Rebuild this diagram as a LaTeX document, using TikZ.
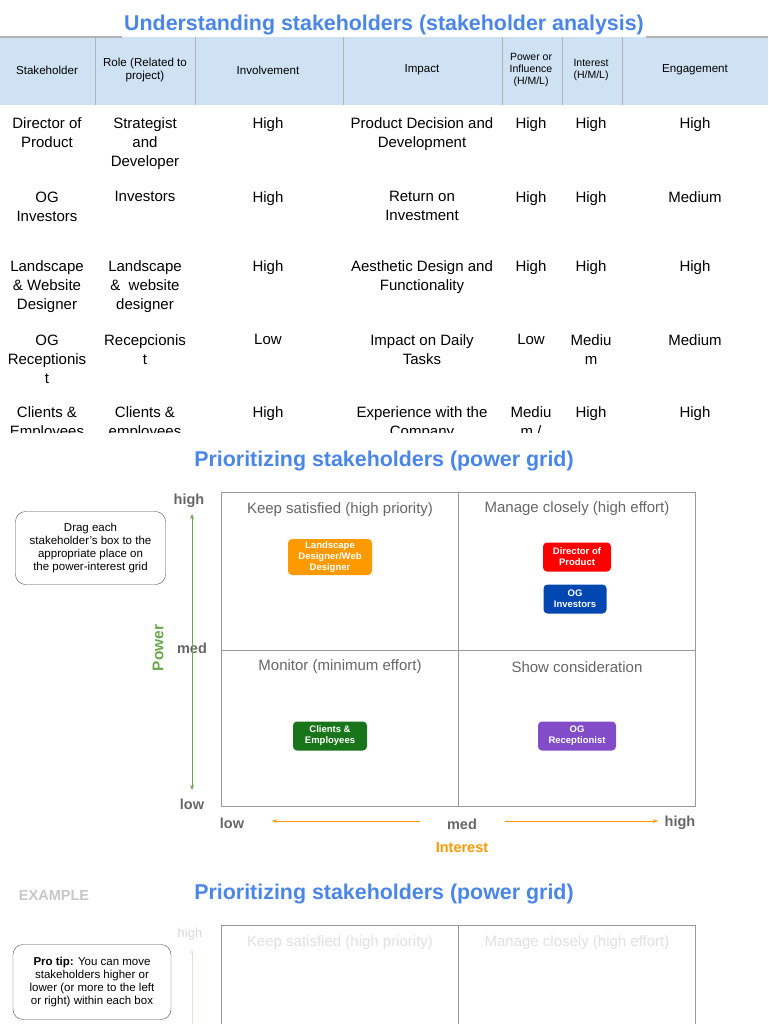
\documentclass[tikz,border=0pt]{standalone}
\usepackage{fontspec}
\setmainfont{Liberation Sans}
\usetikzlibrary{arrows.meta}
\definecolor{ttl}{HTML}{4A86E8}
\definecolor{hdr}{HTML}{CFE2F3}
\definecolor{gtxt}{HTML}{666666}
\definecolor{pgreen}{HTML}{6AA84F}
\definecolor{iorange}{HTML}{FF9900}
\begin{document}
\begin{tikzpicture}[x=1pt,y=-1pt,
 title/.style={font=\fontsize{21.4}{23}\selectfont\bfseries,text=ttl},
 hd/.style={font=\fontsize{11.6}{12.5}\selectfont,align=center},
 cell/.style={font=\fontsize{15}{19}\selectfont,align=center,anchor=north},
 quad/.style={font=\fontsize{15}{16}\selectfont,text=gtxt},
 ax/.style={font=\fontsize{14.5}{16}\selectfont\bfseries,text=gtxt},
 sticker/.style={rounded corners=4pt,font=\fontsize{9.5}{11}\selectfont\bfseries,text=white,align=center,inner sep=0pt},
 note/.style={draw=black!70,rounded corners=10pt,font=\fontsize{11.5}{13}\selectfont,align=center,inner sep=0pt}]
\useasboundingbox (0,0) rectangle (768,1024);
\node[title] (t1) at (384,25) {Understanding stakeholders (stakeholder analysis)};
% header
\fill[hdr] (0,37) rectangle (768,105);
\draw[gray!60,line width=1.2pt] (0,37) -- (122,37) (646,37) -- (768,37);
\foreach \x in {95,195,343,502,562,622} \draw[gray!60] (\x,37) -- (\x,105);
\node[hd] (h1) at (47,70) {Stakeholder};
\node[hd] (h2) at (145,70) {Role (Related to\\project)};
\node[hd] (h3) at (268,70) {Involvement};
\node[hd] (h4) at (422,70) {Impact};
\node[hd,font=\fontsize{10.5}{12}\selectfont] (h5) at (531,70) {Power or\\Influence\\(H/M/L)};
\node[hd,font=\fontsize{10.5}{12}\selectfont] (h6) at (591,70) {Interest\\(H/M/L)};
\node[hd] (h7) at (695,70) {Engagement};
% rows
\begin{scope}
\clip (0,105) rectangle (768,432);
\foreach \y/\a/\b/\c/\d/\e/\f/\g/\n in {
 114/{Director of\\Product}/{Strategist\\and\\Developer}/High/{Product Decision and\\Development}/High/High/High/r1,
 188/{OG\\Investors}/Investors/High/{Return on\\Investment}/High/High/Medium/r2,
 257/{Landscape\\\& Website\\Designer}/{Landscape\\\&\ \ website\\designer}/High/{Aesthetic Design and\\Functionality}/High/High/High/r3,
 331/{OG\\Receptionis\\t}/{Recepcionis\\t}/Low/{Impact on Daily\\Tasks}/Low/{Mediu\\m}/Medium/r4,
 403/{Clients \&\\Employees}/{Clients \&\\employees}/High/{Experience with the\\Company}/{Mediu\\m /}/High/High/r5}{
 \node[cell] (\n a) at (47,\y) {\a};
 \node[cell] (\n b) at (145,\y) {\b};
 \node[cell] (\n c) at (268,\y) {\c};
 \node[cell] (\n d) at (422,\y) {\d};
 \node[cell] (\n e) at (531,\y) {\e};
 \node[cell] (\n f) at (591,\y) {\f};
 \node[cell] (\n g) at (695,\y) {\g};
}
\end{scope}
% grid 1
\node[title] (t2) at (384,461) {Prioritizing stakeholders (power grid)};
\draw[gray!80] (221,492) rectangle (695,806);
\draw[gray!80] (458,492) -- (458,806);
\draw[gray!80] (221,650) -- (695,650);
\node[quad] (q1) at (340,510) {Keep satisfied (high priority)};
\node[quad] (q2) at (577,509) {Manage closely (high effort)};
\node[quad] (q3) at (340,667) {Monitor (minimum effort)};
\node[quad] (q4) at (577,667) {Show consideration};
\node[sticker,fill=iorange,minimum width=84pt,minimum height=36pt] (s1) at (330,557) {Landscape\\Designer/Web\\Designer};
\node[sticker,fill=red,minimum width=68pt,minimum height=29pt] (s2) at (577,557) {Director of\\Product};
\node[sticker,fill=blue!60!cyan!70!black,minimum width=63pt,minimum height=29pt] (s3) at (575,599) {OG\\Investors};
\node[sticker,fill=green!40!black!90,minimum width=74pt,minimum height=29pt] (s4) at (330,736) {Clients \&\\Employees};
\node[sticker,fill=violet!60!blue!70,minimum width=78pt,minimum height=29pt] (s5) at (577,736) {OG\\Receptionist};
\node[ax] (ph) at (189,501) {high};
\node[ax] (pm) at (192,648) {med};
\node[ax] (pl) at (192,804) {low};
\node[font=\fontsize{15.5}{16}\selectfont\bfseries,text=pgreen,rotate=90] (pw) at (158,648) {Power};
\draw[pgreen,{Stealth[length=5pt]}-{Stealth[length=5pt]}] (192,514) -- (192,790);
\node[ax] (il) at (232,823) {low};
\node[ax] (im) at (462,824) {med};
\node[ax] (ih) at (680,823) {high};
\node[font=\fontsize{14.5}{16}\selectfont\bfseries,text=iorange] (in) at (462,848) {Interest};
\coordinate (a1) at (420,821); \coordinate (a2) at (272,821);
\coordinate (a3) at (505,821); \coordinate (a4) at (658,821);
\draw[iorange,-{Stealth[length=5pt]}] (a1) -- (a2);
\draw[iorange,-{Stealth[length=5pt]}] (a3) -- (a4);
\node[note,minimum width=150pt,minimum height=73pt] (n1) at (90.5,548) {Drag each\\stakeholder's box to the\\appropriate place on\\the power-interest grid};
% example
\node[font=\fontsize{14.5}{16}\selectfont\bfseries,text=black!22] (ex) at (54,896) {EXAMPLE};
\node[title] (t3) at (384,894) {Prioritizing stakeholders (power grid)};
\draw[gray!80] (221,1030) -- (221,925) -- (695,925) -- (695,1030);
\draw[gray!80] (458,925) -- (458,1030);
\node[quad,text=black!12] (e1) at (340,943) {Keep satisfied (high priority)};
\node[quad,text=black!12] (e2) at (577,943) {Manage closely (high effort)};
\node[font=\rmfamily\fontsize{13}{15}\selectfont,text=black!15] (eh) at (190,934) {high};
\draw[pgreen!25,-{Stealth[length=4pt]}] (192,1030) -- (192,950);
\node[note,minimum width=158pt,minimum height=75pt] (n2) at (92,982) {\textbf{Pro tip:} You can move\\stakeholders higher or\\lower (or more to the left\\or right) within each box};
\end{tikzpicture}
\end{document}
